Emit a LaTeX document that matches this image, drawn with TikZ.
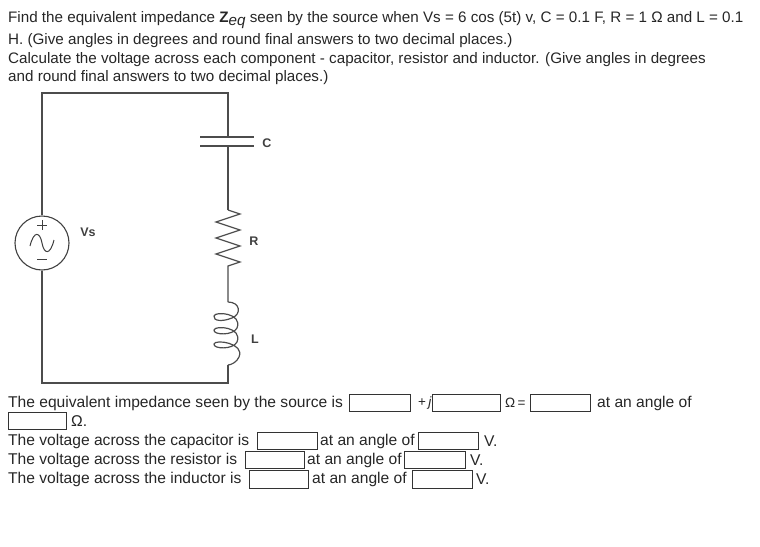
\documentclass[tikz,border=0pt]{standalone}
\usepackage{fontspec}
\setmainfont{Liberation Sans}
\usetikzlibrary{decorations.pathmorphing}
\begin{document}
\begin{tikzpicture}[x=1pt,y=-1pt,
  txt/.style={anchor=west,inner sep=0pt,font=\fontsize{15.2}{17}\selectfont,text=black!85},
  atxt/.style={anchor=west,inner sep=0pt,font=\fontsize{15.6}{17}\selectfont,text=black!85},
  stxt/.style={anchor=west,inner sep=0pt,font=\fontsize{13.5}{15}\selectfont,text=black!85},
  lab/.style={inner sep=0pt,font=\bfseries\fontsize{12.5}{14}\selectfont,text=black!75},
  ansbox/.style={draw=black!80,line width=0.8pt},
  wire/.style={draw=black!70,line width=1.2pt}]
\useasboundingbox (0,0) rectangle (760,546);
\node[txt] (h1) at (8,20) {Find the equivalent impedance \textbf{Z}\raisebox{-0.4ex}{\textit{eq}} seen by the source when Vs = 6 cos (5t) v, C = 0.1 F, R = 1 Ω and L = 0.1};
\node[txt] (h2) at (8,41) {H. (Give angles in degrees and round final answers to two decimal places.)};
\node[txt] (h3) at (8,60) {Calculate the voltage across each component - capacitor, resistor and inductor. (Give angles in degrees};
\node[txt] (h4) at (8,78) {and round final answers to two decimal places.)};
% circuit
\coordinate (tl) at (42,93); \coordinate (tr) at (228,93);
\coordinate (bl) at (42,383); \coordinate (br) at (228,383);
\node[circle,draw=black!75,line width=1.1pt,minimum size=54pt,inner sep=0pt] (vs) at (42,243) {};
\draw[wire] (vs.north) -- (tl) -- (tr) -- (228,137);
\draw[wire] (vs.south) -- (bl) -- (br) -- (228,365);
\draw[wire] (200,137) -- (254,137); \draw[wire] (200,146) -- (254,146);
\draw[wire] (228,146) -- (228,210);
\draw[wire] (228,210) -- (240,214) -- (216,222) -- (240,230) -- (216,238) -- (240,246) -- (216,254) -- (240,262) -- (228,266) -- (228,302);
\draw[wire,line join=round] (228,302) .. controls (240,302) and (242,314) .. (232,318)
  .. controls (222,322) and (213,321) .. (214,316) .. controls (215,311) and (243,313) .. (237,328)
  .. controls (233,336) and (213,335) .. (214,330) .. controls (215,325) and (243,327) .. (237,342)
  .. controls (233,350) and (213,349) .. (214,344) .. controls (215,339) and (245,343) .. (239,357)
  .. controls (237,362) and (231,365) .. (228,365);
% source symbol
\draw[black!75,line width=1pt] (30,246) .. controls (34,230) and (40,232) .. (42,243) .. controls (44,254) and (50,256) .. (54,240);
\draw[black!75,line width=0.9pt] (37,225) -- (47,225) (42,220) -- (42,230) (37,259) -- (47,259);
\node[lab] (lvs) at (88,232) {Vs};
\node[lab] (lc) at (267,143) {C};
\node[lab] (lr) at (254,241) {R};
\node[lab] (ll) at (255,339) {L};
% answers
\node[atxt] (t1) at (8,403) {The equivalent impedance seen by the source is};
\draw[ansbox] (349,394) rectangle (410,411);
\node[stxt] (t2) at (418,403) {+\,\textit{j}};
\draw[ansbox] (432,394) rectangle (500,411);
\node[stxt] (t3) at (505,403) {Ω\,=};
\draw[ansbox] (530,394) rectangle (590,411);
\node[atxt] (t4) at (597,403) {at an angle of};
\draw[ansbox] (8,412) rectangle (66,429);
\node[atxt] (t5) at (71,421) {Ω.};
\node[atxt] (c1) at (8,441) {The voltage across the capacitor is};
\draw[ansbox] (257,432) rectangle (317,449);
\node[atxt] (c2) at (320,441) {at an angle of};
\draw[ansbox] (418,432) rectangle (478,449);
\node[atxt] (c3) at (484,441) {V.};
\node[atxt] (r1) at (8,460) {The voltage across the resistor is};
\draw[ansbox] (245,451) rectangle (304,468);
\node[atxt] (r2) at (307,460) {at an angle of};
\draw[ansbox] (404,451) rectangle (465,468);
\node[atxt] (r3) at (470,460) {V.};
\node[atxt] (i1) at (8,479) {The voltage across the inductor is};
\draw[ansbox] (249,470) rectangle (308,488);
\node[atxt] (i2) at (312,479) {at an angle of};
\draw[ansbox] (412,470) rectangle (472,488);
\node[atxt] (i3) at (476,479) {V.};
\end{tikzpicture}
\end{document}
